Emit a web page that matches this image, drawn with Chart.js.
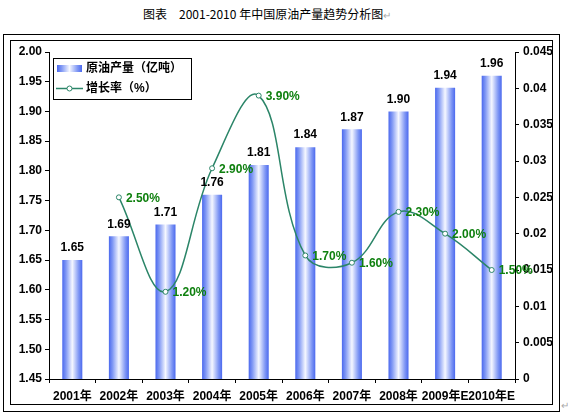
<!DOCTYPE html>
<html>
<head>
<meta charset="utf-8">
<script src="https://cdn.jsdelivr.net/npm/chart.js@4/dist/chart.umd.min.js"></script>
<style>
  body { margin: 0; background: #fff; }
  #title { position: absolute; left: 143px; top: 5px; font: 12px "Noto Sans CJK SC", sans-serif; color: #000; white-space: nowrap; }
  #title span { color: #aaa; font-size: 10px; }
  #outer { position: absolute; left: 3px; top: 34px; width: 557px; height: 378px; border: 1px solid #000; box-sizing: border-box; }
  #inner { position: absolute; left: 10px; top: 40px; width: 543px; height: 365px; border: 1px solid #000; box-sizing: border-box; }
  #wrap { position: absolute; left: 10px; top: 40px; width: 543px; height: 365px; }
  #mark { position: absolute; left: 561px; top: 400px; color: #aaa; font-size: 10px; }
</style>
</head>
<body>
<div id="title">图表　2001-2010 年中国原油产量趋势分析图<span>↵</span></div>
<div id="outer"></div>
<div id="inner"></div>
<div id="wrap"><canvas id="chart" width="543" height="365"></canvas></div>
<div id="mark">↵</div>
<script>
const years = ["2001年", "2002年", "2003年", "2004年", "2005年", "2006年", "2007年", "2008年", "2009年E", "2010年E"];
const output = [1.65, 1.69, 1.71, 1.76, 1.81, 1.84, 1.87, 1.90, 1.94, 1.96];
const growth = [null, 0.025, 0.012, 0.029, 0.039, 0.017, 0.016, 0.023, 0.020, 0.015];

const FONT = 'Arial, "Liberation Sans", "Noto Sans CJK SC", sans-serif';
const LINE = "#2b8568";
const LABEL_GREEN = "#0f800f";
const BAR_PCT = 0.43;

function addStops(g) {
    g.addColorStop(0, "#4b69ee");
    g.addColorStop(0.18, "#7f97f4");
    g.addColorStop(0.5, "#f5f7ff");
    g.addColorStop(0.82, "#7f97f4");
    g.addColorStop(1, "#4b69ee");
    return g;
}

function barFill(c) {
    const chart = c.chart;
    const xs = chart.scales && chart.scales.x;
    if (!xs || c.dataIndex === undefined) return "#7f97f4";
    const cx = xs.getPixelForValue(c.dataIndex);
    const w = xs.width / years.length * BAR_PCT;
    if (!isFinite(cx) || !isFinite(w) || w <= 0) return "#7f97f4";
    return addStops(chart.ctx.createLinearGradient(cx - w / 2, 0, cx + w / 2, 0));
}

const labelsPlugin = {
    id: "labels",
    afterDatasetsDraw(chart) {
        const ctx = chart.ctx;
        ctx.save();
        // bar values
        ctx.font = "bold 12px " + FONT;
        ctx.fillStyle = "#000";
        ctx.textAlign = "center";
        ctx.textBaseline = "bottom";
        chart.getDatasetMeta(1).data.forEach((el, i) => {
            ctx.fillText(output[i].toFixed(2), el.x, el.y - 6);
        });
        // growth values
        ctx.font = "bold 12px " + FONT;
        ctx.fillStyle = LABEL_GREEN;
        ctx.textAlign = "left";
        ctx.textBaseline = "middle";
        chart.getDatasetMeta(0).data.forEach((el, i) => {
            if (growth[i] === null) return;
            ctx.fillText((growth[i] * 100).toFixed(2) + "%", el.x + 7, el.y + 1);
        });
        ctx.restore();
    },
    afterDraw(chart) {
        const ctx = chart.ctx;
        ctx.save();
        ctx.fillStyle = "#fff";
        ctx.fillRect(43, 18, 138, 41);
        ctx.strokeStyle = "#000";
        ctx.lineWidth = 1;
        ctx.strokeRect(43.5, 18.5, 138, 41);
        // bar symbol
        ctx.fillStyle = addStops(ctx.createLinearGradient(47, 0, 72, 0));
        ctx.fillRect(47, 25, 25, 7);
        // line symbol
        ctx.strokeStyle = LINE;
        ctx.lineWidth = 1.5;
        ctx.beginPath();
        ctx.moveTo(46, 48.5);
        ctx.lineTo(73, 48.5);
        ctx.stroke();
        ctx.beginPath();
        ctx.arc(59.5, 48.5, 2.5, 0, Math.PI * 2);
        ctx.fillStyle = "#fff";
        ctx.fill();
        ctx.lineWidth = 1;
        ctx.stroke();
        ctx.font = "bold 12px " + FONT;
        ctx.fillStyle = "#000";
        ctx.textAlign = "left";
        ctx.textBaseline = "middle";
        ctx.fillText("原油产量（亿吨）", 76, 29);
        ctx.fillText("增长率（%）", 76, 49);
        ctx.restore();
    }
};

const tickFont = { family: FONT, size: 12, weight: "bold" };

const chart = new Chart(document.getElementById("chart").getContext("2d"), {
    data: {
        labels: years,
        datasets: [{
            type: "line",
            label: "增长率（%）",
            data: growth,
            yAxisID: "y1",
            borderColor: LINE,
            borderWidth: 1.5,
            tension: 0.4,
            pointRadius: 2.5,
            pointBorderWidth: 1,
            pointBackgroundColor: "#fff",
            pointBorderColor: LINE,
            order: 0
        }, {
            type: "bar",
            label: "原油产量（亿吨）",
            data: output,
            yAxisID: "y",
            backgroundColor: barFill,
            borderWidth: 0,
            categoryPercentage: 1,
            barPercentage: BAR_PCT,
            order: 1
        }]
    },
    options: {
        responsive: false,
        animation: false,
        layout: { padding: { top: 12, left: 0, right: 0, bottom: 0 } },
        plugins: { legend: { display: false }, tooltip: { enabled: false } },
        scales: {
            x: {
                grid: { drawOnChartArea: false, tickLength: 4, color: "#000", offset: true },
                border: { color: "#000" },
                ticks: { font: tickFont, color: "#000", padding: 6, maxRotation: 0, autoSkip: false },
                afterFit: s => { s.height = 26; }
            },
            y: {
                position: "left",
                min: 1.45,
                max: 2.00,
                grid: { drawOnChartArea: false, tickLength: 4, color: "#000" },
                border: { color: "#000" },
                ticks: { stepSize: 0.05, font: tickFont, color: "#000", padding: 3, callback: v => v.toFixed(2) },
                afterFit: s => { s.width = 39; }
            },
            y1: {
                position: "right",
                min: 0,
                max: 0.045,
                grid: { drawOnChartArea: false, tickLength: 4, color: "#000" },
                border: { color: "#000" },
                ticks: { stepSize: 0.005, font: tickFont, color: "#000", padding: 4, callback: v => String(parseFloat(v.toFixed(3))) },
                afterFit: s => { s.width = 38; }
            }
        }
    },
    plugins: [labelsPlugin]
});
chart.update();
</script>
</body>
</html>
